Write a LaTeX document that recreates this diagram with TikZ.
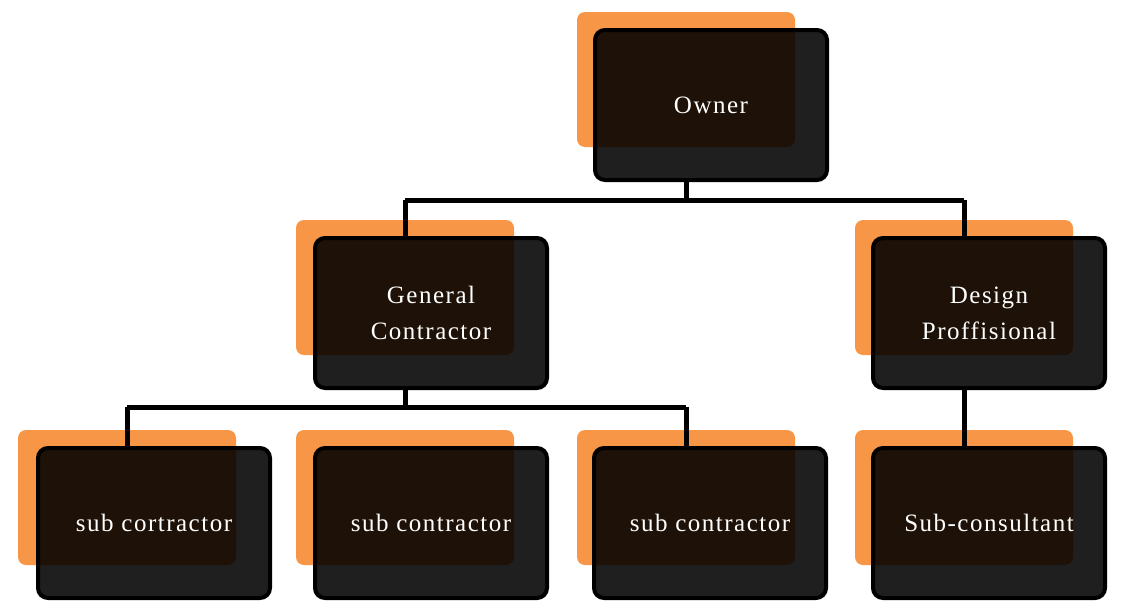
\documentclass[tikz,border=0pt]{standalone}
\usepackage{fontspec}
\setmainfont{Liberation Serif}[LetterSpace=6]
\begin{document}
\begin{tikzpicture}[x=1pt,y=-1pt,
  back/.style={fill={rgb,255:red,247;green,150;blue,70},rounded corners=8pt},
  front/.style={draw=black,line width=4pt,fill=black,fill opacity=0.88,text opacity=1,text=white,rounded corners=10pt,font=\fontsize{25}{36}\selectfont,align=center,inner sep=0pt},
  conn/.style={line width=5pt,black}]
\useasboundingbox (0,0) rectangle (1123,608);
\newcommand{\unit}[6]{% name, ox, oy, fx, fy, text
  \fill[back] (#2,#3) rectangle ++(218,135);
  \coordinate (#1o) at (#2+109,#3);
  \node[front,minimum width=232pt,minimum height=150pt] (#1) at (#4+116,#5+75) {#6};}
\unit{own}{577}{12}{595}{30}{Owner}
\unit{gc}{296}{220}{315}{238}{General\\Contractor}
\unit{dp}{855}{220}{873}{238}{Design\\Proffisional}
\unit{s1}{18}{430}{38}{448}{sub cortractor}
\unit{s2}{296}{430}{315}{448}{sub contractor}
\unit{s3}{577}{430}{594}{448}{sub contractor}
\unit{s4}{855}{430}{873}{448}{Sub-consultant}
\draw[conn] (owno |- own.south) -- ++(0,18) coordinate (j1);
\draw[conn] (gco |- j1) -- (dpo |- j1);
\draw[conn] (gco |- j1) -- (gco |- gc.north);
\draw[conn] (dpo |- j1) -- (dpo |- dp.north);
\draw[conn] (gco |- gc.south) -- ++(0,17) coordinate (j2);
\draw[conn] (s1o |- j2) -- (s3o |- j2);
\draw[conn] (s1o |- j2) -- (s1o |- s1.north);
\draw[conn] (s3o |- j2) -- (s3o |- s3.north);
\draw[conn] (dpo |- dp.south) -- (s4o |- s4.north);
\end{tikzpicture}
\end{document}
